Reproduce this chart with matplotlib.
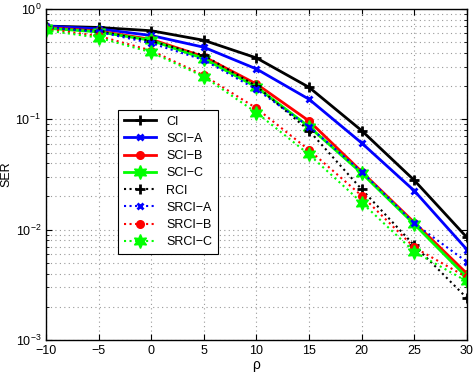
import numpy as np
import matplotlib
matplotlib.use('Agg')
import matplotlib.pyplot as plt
from matplotlib.ticker import LogLocator, FixedLocator

plt.rcParams['font.family'] = ['Liberation Sans', 'DejaVu Sans']

rho = [-10, -5, 0, 5, 10, 15, 20, 25, 30]

# SER curves
ser_ci     = [0.70, 0.68, 0.635, 0.52, 0.36, 0.195, 0.079, 0.028, 0.0085]
ser_sci_a  = [0.70, 0.66, 0.575, 0.45, 0.286, 0.152, 0.061, 0.0225, 0.0066]
ser_sci_b  = [0.68, 0.63, 0.53, 0.37, 0.209, 0.0966, 0.0335, 0.0116, 0.0040]
ser_sci_c  = [0.67, 0.62, 0.52, 0.355, 0.196, 0.0857, 0.0325, 0.0112, 0.0037]
ser_rci    = [0.68, 0.63, 0.51, 0.38, 0.20, 0.079, 0.0232, 0.0072, 0.0024]
ser_srci_a = [0.68, 0.62, 0.49, 0.345, 0.187, 0.0857, 0.0335, 0.0114, 0.0051]
ser_srci_b = [0.66, 0.57, 0.42, 0.25, 0.126, 0.0527, 0.0203, 0.0069, 0.0037]
ser_srci_c = [0.64, 0.55, 0.405, 0.244, 0.115, 0.048, 0.0176, 0.0063, 0.0034]

labels = ['CI', 'SCI\u2212A', 'SCI\u2212B', 'SCI\u2212C',
          'RCI', 'SRCI\u2212A', 'SRCI\u2212B', 'SRCI\u2212C']

hexagram = (6, 1, 0)

fig = plt.figure(figsize=(4.74, 3.74), dpi=100)
ax = fig.add_axes([0.097, 0.091, 0.888, 0.885])

# data, colour, linestyle, marker, size, marker edge width
series = [
    (ser_ci, 'k', '-', '+', 7, 2.0),
    (ser_sci_a, 'b', '-', 'x', 5, 2.0),
    (ser_sci_b, 'r', '-', 'o', 5, 1.5),
    (ser_sci_c, '#00ff00', '-', hexagram, 10, 1.0),
    (ser_rci, 'k', ':', '+', 7, 2.0),
    (ser_srci_a, 'b', ':', 'x', 5, 2.0),
    (ser_srci_b, 'r', ':', 'o', 5, 1.5),
    (ser_srci_c, '#00ff00', ':', hexagram, 10, 1.0),
]

for (vals, col, ls, mk, ms, mew), lab in zip(series, labels):
    lw = 2.0 if ls == '-' else 1.5
    ax.semilogy(rho, vals, color=col, linestyle=ls, linewidth=lw, marker=mk,
                markersize=ms, markerfacecolor=col, markeredgecolor=col,
                markeredgewidth=mew, label=lab)

ax.set_xlim(-10, 30)
ax.set_ylim(1e-3, 1e0)
ax.xaxis.set_major_locator(FixedLocator(rho))
ax.yaxis.set_major_locator(LogLocator(base=10, numticks=10))
ax.yaxis.set_minor_locator(LogLocator(base=10, subs=np.arange(2, 10), numticks=10))

ax.grid(True, which='major', linestyle=(0, (1, 3)), color='#999999', linewidth=0.8)
ax.grid(True, which='minor', axis='y', linestyle=(0, (1, 3)), color='#999999', linewidth=0.8)

ax.tick_params(which='both', direction='in', top=True, right=True, labelsize=9)
ax.tick_params(which='major', length=4)
ax.tick_params(which='minor', length=2)
for sp in ax.spines.values():
    sp.set_linewidth(1.0)

ax.set_xlabel('\u03c1', fontsize=10, labelpad=1)
ax.set_ylabel('SER', fontsize=9, labelpad=2)

leg = ax.legend(loc='upper left', bbox_to_anchor=(0.171, 0.695), borderaxespad=0,
                fontsize=9, fancybox=False, framealpha=1, edgecolor='k',
                handlelength=2.6, labelspacing=0.42, borderpad=0.45)
leg.get_frame().set_linewidth(0.8)

fig.savefig('out.png', dpi=100)
